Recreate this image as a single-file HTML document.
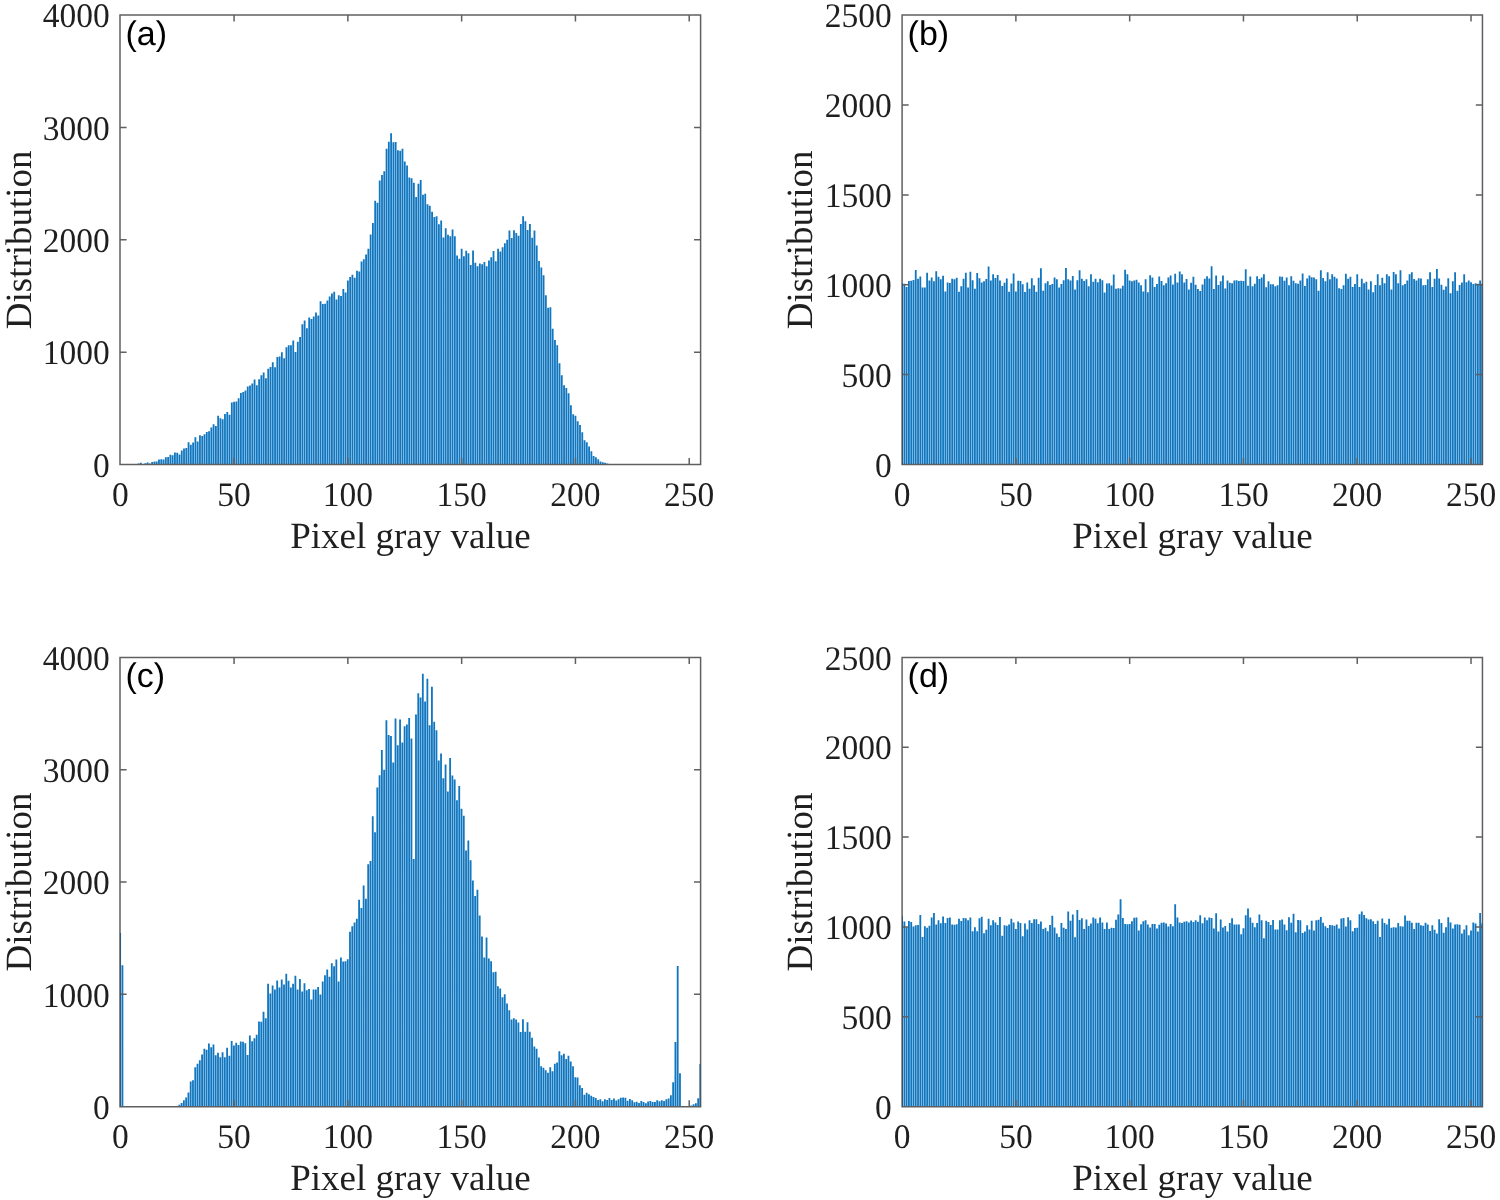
<!DOCTYPE html>
<html lang="en"><head><meta charset="utf-8"><title>Histograms</title>
<style>
html,body{margin:0;padding:0;background:#fff;}
svg{display:block;}
.t,.p{text-rendering:geometricPrecision;}
.t{font-family:"Liberation Serif","Times New Roman",serif;font-size:33.5px;fill:#1f1f1f;}
.l{font-size:37px;}
.p{font-family:"Liberation Sans",Arial,sans-serif;font-size:34px;fill:#000;}
.ax{stroke:#606060;stroke-width:1.5;fill:none;}
.b{fill:#1076BF;}
</style></head><body>
<svg width="1500" height="1200" viewBox="0 0 1500 1200">
<rect width="1500" height="1200" fill="#fff"/>

<g id="plot-a">
<clipPath id="clip-a"><rect x="120.3" y="15.2" width="580.3" height="449.25"/></clipPath>
<g class="b" clip-path="url(#clip-a)">
<path d="M135.32 464.45v-0.34h1.82v0.34zM137.60 464.45v-0.90h1.82v0.90zM139.87 464.45v-1.80h1.82v1.80zM142.15 464.45v-0.45h1.82v0.45zM144.42 464.45v-1.24h1.82v1.24zM146.70 464.45v-2.02h1.82v2.02zM148.97 464.45v-1.01h1.82v1.01zM151.25 464.45v-2.47h1.82v2.47zM153.53 464.45v-3.03h1.82v3.03zM155.80 464.45v-3.03h1.82v3.03zM158.08 464.45v-5.05h1.82v5.05zM160.35 464.45v-5.28h1.82v5.28zM162.63 464.45v-4.83h1.82v4.83zM164.90 464.45v-7.30h1.82v7.30zM167.18 464.45v-7.41h1.82v7.41zM169.45 464.45v-9.77h1.82v9.77zM171.73 464.45v-9.21h1.82v9.21zM174.01 464.45v-12.02h1.82v12.02zM176.28 464.45v-11.68h1.82v11.68zM178.56 464.45v-10.00h1.82v10.00zM180.83 464.45v-14.04h1.82v14.04zM183.11 464.45v-16.06h1.82v16.06zM185.38 464.45v-16.40h1.82v16.40zM187.66 464.45v-22.24h1.82v22.24zM189.94 464.45v-19.77h1.82v19.77zM192.21 464.45v-22.01h1.82v22.01zM194.49 464.45v-27.29h1.82v27.29zM196.76 464.45v-23.02h1.82v23.02zM199.04 464.45v-29.20h1.82v29.20zM201.31 464.45v-28.42h1.82v28.42zM203.59 464.45v-30.10h1.82v30.10zM205.87 464.45v-32.57h1.82v32.57zM208.14 464.45v-33.24h1.82v33.24zM210.42 464.45v-37.06h1.82v37.06zM212.69 464.45v-40.10h1.82v40.10zM214.97 464.45v-38.41h1.82v38.41zM217.24 464.45v-48.63h1.82v48.63zM219.52 464.45v-46.16h1.82v46.16zM221.80 464.45v-45.26h1.82v45.26zM224.07 464.45v-50.43h1.82v50.43zM226.35 464.45v-52.45h1.82v52.45zM228.62 464.45v-49.64h1.82v49.64zM230.90 464.45v-61.88h1.82v61.88zM233.17 464.45v-62.78h1.82v62.78zM235.45 464.45v-63.01h1.82v63.01zM237.73 464.45v-66.15h1.82v66.15zM240.00 464.45v-71.54h1.82v71.54zM242.28 464.45v-72.33h1.82v72.33zM244.55 464.45v-74.01h1.82v74.01zM246.83 464.45v-77.94h1.82v77.94zM249.10 464.45v-78.96h1.82v78.96zM251.38 464.45v-80.86h1.82v80.86zM253.66 464.45v-85.02h1.82v85.02zM255.93 464.45v-79.29h1.82v79.29zM258.21 464.45v-85.25h1.82v85.25zM260.48 464.45v-89.29h1.82v89.29zM262.76 464.45v-91.98h1.82v91.98zM265.03 464.45v-86.14h1.82v86.14zM267.31 464.45v-95.69h1.82v95.69zM269.59 464.45v-97.49h1.82v97.49zM271.86 464.45v-102.09h1.82v102.09zM274.14 464.45v-97.15h1.82v97.15zM276.41 464.45v-107.48h1.82v107.48zM278.69 464.45v-107.93h1.82v107.93zM280.96 464.45v-112.31h1.82v112.31zM283.24 464.45v-106.14h1.82v106.14zM285.51 464.45v-117.14h1.82v117.14zM287.79 464.45v-119.28h1.82v119.28zM290.07 464.45v-119.28h1.82v119.28zM292.34 464.45v-123.88h1.82v123.88zM294.62 464.45v-112.42h1.82v112.42zM296.89 464.45v-122.65h1.82v122.65zM299.17 464.45v-127.47h1.82v127.47zM301.44 464.45v-140.28h1.82v140.28zM303.72 464.45v-143.87h1.82v143.87zM306.00 464.45v-136.24h1.82v136.24zM308.27 464.45v-147.02h1.82v147.02zM310.55 464.45v-145.44h1.82v145.44zM312.82 464.45v-148.03h1.82v148.03zM315.10 464.45v-152.07h1.82v152.07zM317.37 464.45v-149.04h1.82v149.04zM319.65 464.45v-163.08h1.82v163.08zM321.93 464.45v-160.38h1.82v160.38zM324.20 464.45v-160.61h1.82v160.61zM326.48 464.45v-163.86h1.82v163.86zM328.75 464.45v-168.02h1.82v168.02zM331.03 464.45v-170.83h1.82v170.83zM333.30 464.45v-172.62h1.82v172.62zM335.58 464.45v-164.87h1.82v164.87zM337.86 464.45v-169.14h1.82v169.14zM340.13 464.45v-168.36h1.82v168.36zM342.41 464.45v-175.43h1.82v175.43zM344.68 464.45v-172.06h1.82v172.06zM346.96 464.45v-183.86h1.82v183.86zM349.23 464.45v-187.45h1.82v187.45zM351.51 464.45v-189.81h1.82v189.81zM353.79 464.45v-186.78h1.82v186.78zM356.06 464.45v-193.63h1.82v193.63zM358.34 464.45v-193.07h1.82v193.07zM360.61 464.45v-203.06h1.82v203.06zM362.89 464.45v-205.08h1.82v205.08zM365.16 464.45v-210.02h1.82v210.02zM367.44 464.45v-215.64h1.82v215.64zM369.72 464.45v-230.02h1.82v230.02zM371.99 464.45v-241.47h1.82v241.47zM374.27 464.45v-263.82h1.82v263.82zM376.54 464.45v-261.80h1.82v261.80zM378.82 464.45v-284.04h1.82v284.04zM381.09 464.45v-289.43h1.82v289.43zM383.37 464.45v-293.14h1.82v293.14zM385.65 464.45v-315.82h1.82v315.82zM387.92 464.45v-322.79h1.82v322.79zM390.20 464.45v-331.21h1.82v331.21zM392.47 464.45v-322.22h1.82v322.22zM394.75 464.45v-322.45h1.82v322.45zM397.02 464.45v-314.25h1.82v314.25zM399.30 464.45v-313.80h1.82v313.80zM401.57 464.45v-315.60h1.82v315.60zM403.85 464.45v-303.02h1.82v303.02zM406.13 464.45v-298.98h1.82v298.98zM408.40 464.45v-287.07h1.82v287.07zM410.68 464.45v-286.17h1.82v286.17zM412.95 464.45v-281.79h1.82v281.79zM415.23 464.45v-267.42h1.82v267.42zM417.50 464.45v-280.67h1.82v280.67zM419.78 464.45v-284.38h1.82v284.38zM422.06 464.45v-269.77h1.82v269.77zM424.33 464.45v-270.67h1.82v270.67zM426.61 464.45v-260.12h1.82v260.12zM428.88 464.45v-258.66h1.82v258.66zM431.16 464.45v-252.82h1.82v252.82zM433.43 464.45v-247.42h1.82v247.42zM435.71 464.45v-248.10h1.82v248.10zM437.99 464.45v-240.24h1.82v240.24zM440.26 464.45v-243.83h1.82v243.83zM442.54 464.45v-226.98h1.82v226.98zM444.81 464.45v-236.08h1.82v236.08zM447.09 464.45v-229.79h1.82v229.79zM449.36 464.45v-228.11h1.82v228.11zM451.64 464.45v-235.07h1.82v235.07zM453.92 464.45v-228.11h1.82v228.11zM456.19 464.45v-208.90h1.82v208.90zM458.47 464.45v-205.64h1.82v205.64zM460.74 464.45v-215.64h1.82v215.64zM463.02 464.45v-208.23h1.82v208.23zM465.29 464.45v-213.62h1.82v213.62zM467.57 464.45v-211.26h1.82v211.26zM469.85 464.45v-199.47h1.82v199.47zM472.12 464.45v-213.84h1.82v213.84zM474.40 464.45v-201.71h1.82v201.71zM476.67 464.45v-198.23h1.82v198.23zM478.95 464.45v-201.04h1.82v201.04zM481.22 464.45v-200.25h1.82v200.25zM483.50 464.45v-202.50h1.82v202.50zM485.78 464.45v-198.23h1.82v198.23zM488.05 464.45v-204.07h1.82v204.07zM490.33 464.45v-207.22h1.82v207.22zM492.60 464.45v-213.39h1.82v213.39zM494.88 464.45v-203.29h1.82v203.29zM497.15 464.45v-215.64h1.82v215.64zM499.43 464.45v-213.06h1.82v213.06zM501.71 464.45v-217.21h1.82v217.21zM503.98 464.45v-221.14h1.82v221.14zM506.26 464.45v-224.62h1.82v224.62zM508.53 464.45v-233.95h1.82v233.95zM510.81 464.45v-226.42h1.82v226.42zM513.08 464.45v-234.17h1.82v234.17zM515.36 464.45v-231.48h1.82v231.48zM517.63 464.45v-228.67h1.82v228.67zM519.91 464.45v-240.35h1.82v240.35zM522.19 464.45v-248.21h1.82v248.21zM524.46 464.45v-243.16h1.82v243.16zM526.74 464.45v-234.51h1.82v234.51zM529.01 464.45v-240.35h1.82v240.35zM531.29 464.45v-226.76h1.82v226.76zM533.56 464.45v-233.95h1.82v233.95zM535.84 464.45v-219.01h1.82v219.01zM538.12 464.45v-203.40h1.82v203.40zM540.39 464.45v-197.00h1.82v197.00zM542.67 464.45v-189.13h1.82v189.13zM544.94 464.45v-169.25h1.82v169.25zM547.22 464.45v-156.79h1.82v156.79zM549.49 464.45v-157.24h1.82v157.24zM551.77 464.45v-135.67h1.82v135.67zM554.05 464.45v-124.44h1.82v124.44zM556.32 464.45v-119.28h1.82v119.28zM558.60 464.45v-101.08h1.82v101.08zM560.87 464.45v-89.29h1.82v89.29zM563.15 464.45v-79.29h1.82v79.29zM565.42 464.45v-76.48h1.82v76.48zM567.70 464.45v-71.21h1.82v71.21zM569.98 464.45v-59.19h1.82v59.19zM572.25 464.45v-50.09h1.82v50.09zM574.53 464.45v-48.63h1.82v48.63zM576.80 464.45v-43.13h1.82v43.13zM579.08 464.45v-39.42h1.82v39.42zM581.35 464.45v-32.23h1.82v32.23zM583.63 464.45v-24.26h1.82v24.26zM585.91 464.45v-22.24h1.82v22.24zM588.18 464.45v-17.86h1.82v17.86zM590.46 464.45v-13.14h1.82v13.14zM592.73 464.45v-8.42h1.82v8.42zM595.01 464.45v-7.30h1.82v7.30zM597.28 464.45v-5.28h1.82v5.28zM599.56 464.45v-3.03h1.82v3.03zM601.84 464.45v-2.25h1.82v2.25zM604.11 464.45v-1.68h1.82v1.68zM606.39 464.45v-0.90h1.82v0.90z"/>
</g>
<path class="ax" d="M120.0 15.0H700.6V464.6H120.0Z"/>
<path class="ax" d="M234.08 464.6v-6.6M234.08 15.0v6.6M347.87 464.6v-6.6M347.87 15.0v6.6M461.65 464.6v-6.6M461.65 15.0v6.6M575.44 464.6v-6.6M575.44 15.0v6.6M689.22 464.6v-6.6M689.22 15.0v6.6M120.0 352.14h6.6M700.6 352.14h-6.6M120.0 239.82h6.6M700.6 239.82h-6.6M120.0 127.51h6.6M700.6 127.51h-6.6"/>
<text class="t" transform="translate(120.3 506) scale(1 1.03)" text-anchor="middle">0</text>
<text class="t" transform="translate(234.1 506) scale(1 1.03)" text-anchor="middle">50</text>
<text class="t" transform="translate(347.9 506) scale(1 1.03)" text-anchor="middle">100</text>
<text class="t" transform="translate(461.7 506) scale(1 1.03)" text-anchor="middle">150</text>
<text class="t" transform="translate(575.4 506) scale(1 1.03)" text-anchor="middle">200</text>
<text class="t" transform="translate(689.2 506) scale(1 1.03)" text-anchor="middle">250</text>
<text class="t" transform="translate(109.7 477) scale(1 1.03)" text-anchor="end">0</text>
<text class="t" transform="translate(109.7 364) scale(1 1.03)" text-anchor="end">1000</text>
<text class="t" transform="translate(109.7 252) scale(1 1.03)" text-anchor="end">2000</text>
<text class="t" transform="translate(109.7 140) scale(1 1.03)" text-anchor="end">3000</text>
<text class="t" transform="translate(109.7 27) scale(1 1.03)" text-anchor="end">4000</text>
<text class="t l" x="410.4" y="547.5" text-anchor="middle">Pixel gray value</text>
<text class="t l" transform="translate(30.5 239.8) rotate(-90)" text-anchor="middle">Distribution</text>
<text class="p" x="125.5" y="45.0">(a)</text>
</g>
<g id="plot-b">
<clipPath id="clip-b"><rect x="902.1" y="15.2" width="580.3" height="449.25"/></clipPath>
<g class="b" clip-path="url(#clip-b)">
<path d="M901.19 464.45v-180.96h1.82v180.96zM903.47 464.45v-180.60h1.82v180.60zM905.74 464.45v-177.36h1.82v177.36zM908.02 464.45v-183.47h1.82v183.47zM910.29 464.45v-183.65h1.82v183.65zM912.57 464.45v-184.55h1.82v184.55zM914.84 464.45v-194.44h1.82v194.44zM917.12 464.45v-185.63h1.82v185.63zM919.40 464.45v-187.97h1.82v187.97zM921.67 464.45v-177.00h1.82v177.00zM923.95 464.45v-177.00h1.82v177.00zM926.22 464.45v-191.74h1.82v191.74zM928.50 464.45v-184.01h1.82v184.01zM930.77 464.45v-187.07h1.82v187.07zM933.05 464.45v-183.11h1.82v183.11zM935.33 464.45v-193.18h1.82v193.18zM937.60 464.45v-187.61h1.82v187.61zM939.88 464.45v-185.09h1.82v185.09zM942.15 464.45v-188.69h1.82v188.69zM944.43 464.45v-173.05h1.82v173.05zM946.70 464.45v-181.86h1.82v181.86zM948.98 464.45v-181.50h1.82v181.50zM951.25 464.45v-185.63h1.82v185.63zM953.53 464.45v-185.27h1.82v185.27zM955.81 464.45v-186.71h1.82v186.71zM958.08 464.45v-172.69h1.82v172.69zM960.36 464.45v-178.26h1.82v178.26zM962.63 464.45v-185.63h1.82v185.63zM964.91 464.45v-191.74h1.82v191.74zM967.18 464.45v-177.00h1.82v177.00zM969.46 464.45v-192.82h1.82v192.82zM971.74 464.45v-184.19h1.82v184.19zM974.01 464.45v-175.75h1.82v175.75zM976.29 464.45v-191.38h1.82v191.38zM978.56 464.45v-186.17h1.82v186.17zM980.84 464.45v-181.86h1.82v181.86zM983.11 464.45v-183.11h1.82v183.11zM985.39 464.45v-185.45h1.82v185.45zM987.67 464.45v-198.03h1.82v198.03zM989.94 464.45v-184.01h1.82v184.01zM992.22 464.45v-190.30h1.82v190.30zM994.49 464.45v-186.35h1.82v186.35zM996.77 464.45v-189.40h1.82v189.40zM999.04 464.45v-184.01h1.82v184.01zM1001.32 464.45v-178.44h1.82v178.44zM1003.60 464.45v-181.68h1.82v181.68zM1005.87 464.45v-185.99h1.82v185.99zM1008.15 464.45v-172.69h1.82v172.69zM1010.42 464.45v-180.96h1.82v180.96zM1012.70 464.45v-191.02h1.82v191.02zM1014.97 464.45v-172.87h1.82v172.87zM1017.25 464.45v-183.65h1.82v183.65zM1019.53 464.45v-183.47h1.82v183.47zM1021.80 464.45v-180.24h1.82v180.24zM1024.08 464.45v-172.51h1.82v172.51zM1026.35 464.45v-181.86h1.82v181.86zM1028.63 464.45v-175.75h1.82v175.75zM1030.90 464.45v-186.17h1.82v186.17zM1033.18 464.45v-179.16h1.82v179.16zM1035.46 464.45v-172.69h1.82v172.69zM1037.73 464.45v-186.71h1.82v186.71zM1040.01 464.45v-196.23h1.82v196.23zM1042.28 464.45v-173.77h1.82v173.77zM1044.56 464.45v-181.32h1.82v181.32zM1046.83 464.45v-183.29h1.82v183.29zM1049.11 464.45v-179.34h1.82v179.34zM1051.39 464.45v-180.42h1.82v180.42zM1053.66 464.45v-187.07h1.82v187.07zM1055.94 464.45v-185.09h1.82v185.09zM1058.21 464.45v-177.00h1.82v177.00zM1060.49 464.45v-180.42h1.82v180.42zM1062.76 464.45v-184.19h1.82v184.19zM1065.04 464.45v-196.41h1.82v196.41zM1067.31 464.45v-185.09h1.82v185.09zM1069.59 464.45v-184.01h1.82v184.01zM1071.87 464.45v-188.33h1.82v188.33zM1074.14 464.45v-174.85h1.82v174.85zM1076.42 464.45v-184.19h1.82v184.19zM1078.69 464.45v-194.26h1.82v194.26zM1080.97 464.45v-185.81h1.82v185.81zM1083.24 464.45v-183.47h1.82v183.47zM1085.52 464.45v-185.27h1.82v185.27zM1087.80 464.45v-178.08h1.82v178.08zM1090.07 464.45v-190.30h1.82v190.30zM1092.35 464.45v-182.58h1.82v182.58zM1094.62 464.45v-185.81h1.82v185.81zM1096.90 464.45v-182.22h1.82v182.22zM1099.17 464.45v-185.63h1.82v185.63zM1101.45 464.45v-184.19h1.82v184.19zM1103.73 464.45v-171.97h1.82v171.97zM1106.00 464.45v-180.96h1.82v180.96zM1108.28 464.45v-181.32h1.82v181.32zM1110.55 464.45v-178.98h1.82v178.98zM1112.83 464.45v-189.94h1.82v189.94zM1115.10 464.45v-175.75h1.82v175.75zM1117.38 464.45v-176.29h1.82v176.29zM1119.66 464.45v-175.93h1.82v175.93zM1121.93 464.45v-178.62h1.82v178.62zM1124.21 464.45v-194.62h1.82v194.62zM1126.48 464.45v-190.30h1.82v190.30zM1128.76 464.45v-184.01h1.82v184.01zM1131.03 464.45v-183.11h1.82v183.11zM1133.31 464.45v-183.83h1.82v183.83zM1135.59 464.45v-184.73h1.82v184.73zM1137.86 464.45v-181.86h1.82v181.86zM1140.14 464.45v-179.16h1.82v179.16zM1142.41 464.45v-173.05h1.82v173.05zM1144.69 464.45v-185.09h1.82v185.09zM1146.96 464.45v-172.15h1.82v172.15zM1149.24 464.45v-189.22h1.82v189.22zM1151.52 464.45v-187.07h1.82v187.07zM1153.79 464.45v-177.36h1.82v177.36zM1156.07 464.45v-180.42h1.82v180.42zM1158.34 464.45v-187.97h1.82v187.97zM1160.62 464.45v-183.47h1.82v183.47zM1162.89 464.45v-179.16h1.82v179.16zM1165.17 464.45v-181.32h1.82v181.32zM1167.45 464.45v-186.89h1.82v186.89zM1169.72 464.45v-189.04h1.82v189.04zM1172.00 464.45v-179.88h1.82v179.88zM1174.27 464.45v-190.66h1.82v190.66zM1176.55 464.45v-181.86h1.82v181.86zM1178.82 464.45v-193.00h1.82v193.00zM1181.10 464.45v-190.30h1.82v190.30zM1183.37 464.45v-181.86h1.82v181.86zM1185.65 464.45v-185.45h1.82v185.45zM1187.93 464.45v-175.03h1.82v175.03zM1190.20 464.45v-181.68h1.82v181.68zM1192.48 464.45v-187.79h1.82v187.79zM1194.75 464.45v-179.70h1.82v179.70zM1197.03 464.45v-175.39h1.82v175.39zM1199.30 464.45v-173.41h1.82v173.41zM1201.58 464.45v-179.88h1.82v179.88zM1203.86 464.45v-185.81h1.82v185.81zM1206.13 464.45v-188.15h1.82v188.15zM1208.41 464.45v-185.99h1.82v185.99zM1210.68 464.45v-198.21h1.82v198.21zM1212.96 464.45v-175.39h1.82v175.39zM1215.23 464.45v-188.86h1.82v188.86zM1217.51 464.45v-179.34h1.82v179.34zM1219.79 464.45v-183.11h1.82v183.11zM1222.06 464.45v-189.04h1.82v189.04zM1224.34 464.45v-175.93h1.82v175.93zM1226.61 464.45v-183.83h1.82v183.83zM1228.89 464.45v-181.68h1.82v181.68zM1231.16 464.45v-181.32h1.82v181.32zM1233.44 464.45v-183.83h1.82v183.83zM1235.72 464.45v-184.19h1.82v184.19zM1237.99 464.45v-183.47h1.82v183.47zM1240.27 464.45v-183.65h1.82v183.65zM1242.54 464.45v-183.47h1.82v183.47zM1244.82 464.45v-195.15h1.82v195.15zM1247.09 464.45v-178.62h1.82v178.62zM1249.37 464.45v-187.97h1.82v187.97zM1251.65 464.45v-178.26h1.82v178.26zM1253.92 464.45v-180.60h1.82v180.60zM1256.20 464.45v-188.15h1.82v188.15zM1258.47 464.45v-185.45h1.82v185.45zM1260.75 464.45v-187.07h1.82v187.07zM1263.02 464.45v-190.30h1.82v190.30zM1265.30 464.45v-177.18h1.82v177.18zM1267.58 464.45v-183.11h1.82v183.11zM1269.85 464.45v-180.24h1.82v180.24zM1272.13 464.45v-180.24h1.82v180.24zM1274.40 464.45v-178.26h1.82v178.26zM1276.68 464.45v-179.16h1.82v179.16zM1278.95 464.45v-187.97h1.82v187.97zM1281.23 464.45v-187.79h1.82v187.79zM1283.51 464.45v-183.65h1.82v183.65zM1285.78 464.45v-187.07h1.82v187.07zM1288.06 464.45v-179.16h1.82v179.16zM1290.33 464.45v-188.15h1.82v188.15zM1292.61 464.45v-183.65h1.82v183.65zM1294.88 464.45v-181.32h1.82v181.32zM1297.16 464.45v-180.78h1.82v180.78zM1299.43 464.45v-183.83h1.82v183.83zM1301.71 464.45v-191.02h1.82v191.02zM1303.99 464.45v-178.44h1.82v178.44zM1306.26 464.45v-185.99h1.82v185.99zM1308.54 464.45v-189.04h1.82v189.04zM1310.81 464.45v-187.25h1.82v187.25zM1313.09 464.45v-187.07h1.82v187.07zM1315.36 464.45v-185.09h1.82v185.09zM1317.64 464.45v-173.59h1.82v173.59zM1319.92 464.45v-194.26h1.82v194.26zM1322.19 464.45v-186.35h1.82v186.35zM1324.47 464.45v-183.11h1.82v183.11zM1326.74 464.45v-192.28h1.82v192.28zM1329.02 464.45v-185.09h1.82v185.09zM1331.29 464.45v-190.30h1.82v190.30zM1333.57 464.45v-187.79h1.82v187.79zM1335.85 464.45v-185.99h1.82v185.99zM1338.12 464.45v-176.29h1.82v176.29zM1340.40 464.45v-175.39h1.82v175.39zM1342.67 464.45v-179.16h1.82v179.16zM1344.95 464.45v-190.66h1.82v190.66zM1347.22 464.45v-185.63h1.82v185.63zM1349.50 464.45v-187.61h1.82v187.61zM1351.78 464.45v-177.36h1.82v177.36zM1354.05 464.45v-180.42h1.82v180.42zM1356.33 464.45v-190.12h1.82v190.12zM1358.60 464.45v-177.36h1.82v177.36zM1360.88 464.45v-185.63h1.82v185.63zM1363.15 464.45v-181.32h1.82v181.32zM1365.43 464.45v-182.58h1.82v182.58zM1367.71 464.45v-174.85h1.82v174.85zM1369.98 464.45v-183.11h1.82v183.11zM1372.26 464.45v-172.15h1.82v172.15zM1374.53 464.45v-179.34h1.82v179.34zM1376.81 464.45v-190.30h1.82v190.30zM1379.08 464.45v-179.16h1.82v179.16zM1381.36 464.45v-186.71h1.82v186.71zM1383.64 464.45v-181.32h1.82v181.32zM1385.91 464.45v-190.30h1.82v190.30zM1388.19 464.45v-188.15h1.82v188.15zM1390.46 464.45v-175.03h1.82v175.03zM1392.74 464.45v-192.46h1.82v192.46zM1395.01 464.45v-190.30h1.82v190.30zM1397.29 464.45v-181.32h1.82v181.32zM1399.57 464.45v-194.08h1.82v194.08zM1401.84 464.45v-179.16h1.82v179.16zM1404.12 464.45v-180.42h1.82v180.42zM1406.39 464.45v-184.01h1.82v184.01zM1408.67 464.45v-190.12h1.82v190.12zM1410.94 464.45v-192.10h1.82v192.10zM1413.22 464.45v-185.45h1.82v185.45zM1415.49 464.45v-184.01h1.82v184.01zM1417.77 464.45v-186.17h1.82v186.17zM1420.05 464.45v-185.99h1.82v185.99zM1422.32 464.45v-179.16h1.82v179.16zM1424.60 464.45v-179.34h1.82v179.34zM1426.87 464.45v-185.27h1.82v185.27zM1429.15 464.45v-192.10h1.82v192.10zM1431.42 464.45v-177.54h1.82v177.54zM1433.70 464.45v-185.63h1.82v185.63zM1435.98 464.45v-195.51h1.82v195.51zM1438.25 464.45v-185.99h1.82v185.99zM1440.53 464.45v-179.70h1.82v179.70zM1442.80 464.45v-174.67h1.82v174.67zM1445.08 464.45v-177.90h1.82v177.90zM1447.35 464.45v-186.17h1.82v186.17zM1449.63 464.45v-171.25h1.82v171.25zM1451.91 464.45v-183.11h1.82v183.11zM1454.18 464.45v-192.28h1.82v192.28zM1456.46 464.45v-173.59h1.82v173.59zM1458.73 464.45v-179.34h1.82v179.34zM1461.01 464.45v-182.04h1.82v182.04zM1463.28 464.45v-190.12h1.82v190.12zM1465.56 464.45v-182.22h1.82v182.22zM1467.84 464.45v-184.01h1.82v184.01zM1470.11 464.45v-182.22h1.82v182.22zM1472.39 464.45v-180.42h1.82v180.42zM1474.66 464.45v-181.32h1.82v181.32zM1476.94 464.45v-180.78h1.82v180.78zM1479.21 464.45v-184.01h1.82v184.01zM1481.49 464.45v-180.60h1.82v180.60z"/>
</g>
<path class="ax" d="M902.1 15.0H1482.45V464.6H902.1Z"/>
<path class="ax" d="M1015.88 464.6v-6.6M1015.88 15.0v6.6M1129.67 464.6v-6.6M1129.67 15.0v6.6M1243.45 464.6v-6.6M1243.45 15.0v6.6M1357.24 464.6v-6.6M1357.24 15.0v6.6M1471.02 464.6v-6.6M1471.02 15.0v6.6M902.1 374.60h6.6M1482.45 374.60h-6.6M902.1 284.75h6.6M1482.45 284.75h-6.6M902.1 194.90h6.6M1482.45 194.90h-6.6M902.1 105.05h6.6M1482.45 105.05h-6.6"/>
<rect x="902.10" y="283.49" width="0.9" height="180.96" fill="#14507f" fill-opacity="0.7"/>
<rect x="1481.55" y="283.85" width="0.9" height="180.60" fill="#14507f" fill-opacity="0.7"/>
<text class="t" transform="translate(902.1 506) scale(1 1.03)" text-anchor="middle">0</text>
<text class="t" transform="translate(1015.9 506) scale(1 1.03)" text-anchor="middle">50</text>
<text class="t" transform="translate(1129.7 506) scale(1 1.03)" text-anchor="middle">100</text>
<text class="t" transform="translate(1243.5 506) scale(1 1.03)" text-anchor="middle">150</text>
<text class="t" transform="translate(1357.2 506) scale(1 1.03)" text-anchor="middle">200</text>
<text class="t" transform="translate(1471.0 506) scale(1 1.03)" text-anchor="middle">250</text>
<text class="t" transform="translate(891.8 477) scale(1 1.03)" text-anchor="end">0</text>
<text class="t" transform="translate(891.8 387) scale(1 1.03)" text-anchor="end">500</text>
<text class="t" transform="translate(891.8 297) scale(1 1.03)" text-anchor="end">1000</text>
<text class="t" transform="translate(891.8 207) scale(1 1.03)" text-anchor="end">1500</text>
<text class="t" transform="translate(891.8 117) scale(1 1.03)" text-anchor="end">2000</text>
<text class="t" transform="translate(891.8 27) scale(1 1.03)" text-anchor="end">2500</text>
<text class="t l" x="1192.5" y="547.5" text-anchor="middle">Pixel gray value</text>
<text class="t l" transform="translate(811.7 239.8) rotate(-90)" text-anchor="middle">Distribution</text>
<text class="p" x="907.6" y="45.0">(b)</text>
</g>
<g id="plot-c">
<clipPath id="clip-c"><rect x="120.3" y="657.4" width="580.3" height="449.25"/></clipPath>
<g class="b" clip-path="url(#clip-c)">
<path d="M119.24 1106.65v-173.64h1.82v173.64zM121.52 1106.65v-141.40h1.82v141.40zM173.86 1106.65v-0.45h1.82v0.45zM176.13 1106.65v-0.67h1.82v0.67zM178.41 1106.65v-1.80h1.82v1.80zM180.68 1106.65v-3.59h1.82v3.59zM182.96 1106.65v-6.40h1.82v6.40zM185.23 1106.65v-9.21h1.82v9.21zM187.51 1106.65v-14.04h1.82v14.04zM189.79 1106.65v-25.05h1.82v25.05zM192.06 1106.65v-26.28h1.82v26.28zM194.34 1106.65v-39.31h1.82v39.31zM196.61 1106.65v-42.79h1.82v42.79zM198.89 1106.65v-46.50h1.82v46.50zM201.16 1106.65v-52.23h1.82v52.23zM203.44 1106.65v-57.95h1.82v57.95zM205.72 1106.65v-56.83h1.82v56.83zM207.99 1106.65v-63.23h1.82v63.23zM210.27 1106.65v-59.41h1.82v59.41zM212.54 1106.65v-62.22h1.82v62.22zM214.82 1106.65v-51.44h1.82v51.44zM217.09 1106.65v-53.80h1.82v53.80zM219.37 1106.65v-49.42h1.82v49.42zM221.65 1106.65v-54.47h1.82v54.47zM223.92 1106.65v-49.42h1.82v49.42zM226.20 1106.65v-58.85h1.82v58.85zM228.47 1106.65v-50.99h1.82v50.99zM230.75 1106.65v-65.70h1.82v65.70zM233.02 1106.65v-61.21h1.82v61.21zM235.30 1106.65v-63.79h1.82v63.79zM237.58 1106.65v-61.66h1.82v61.66zM239.85 1106.65v-65.14h1.82v65.14zM242.13 1106.65v-64.92h1.82v64.92zM244.40 1106.65v-63.46h1.82v63.46zM246.68 1106.65v-51.55h1.82v51.55zM248.95 1106.65v-71.21h1.82v71.21zM251.23 1106.65v-65.37h1.82v65.37zM253.51 1106.65v-68.51h1.82v68.51zM255.78 1106.65v-71.88h1.82v71.88zM258.06 1106.65v-85.25h1.82v85.25zM260.33 1106.65v-84.80h1.82v84.80zM262.61 1106.65v-95.02h1.82v95.02zM264.88 1106.65v-88.28h1.82v88.28zM267.16 1106.65v-122.98h1.82v122.98zM269.44 1106.65v-113.21h1.82v113.21zM271.71 1106.65v-121.19h1.82v121.19zM273.99 1106.65v-117.03h1.82v117.03zM276.26 1106.65v-126.24h1.82v126.24zM278.54 1106.65v-119.05h1.82v119.05zM280.81 1106.65v-127.03h1.82v127.03zM283.09 1106.65v-122.20h1.82v122.20zM285.36 1106.65v-132.87h1.82v132.87zM287.64 1106.65v-126.01h1.82v126.01zM289.92 1106.65v-119.05h1.82v119.05zM292.19 1106.65v-122.98h1.82v122.98zM294.47 1106.65v-130.84h1.82v130.84zM296.74 1106.65v-117.14h1.82v117.14zM299.02 1106.65v-127.59h1.82v127.59zM301.29 1106.65v-115.23h1.82v115.23zM303.57 1106.65v-123.32h1.82v123.32zM305.85 1106.65v-116.36h1.82v116.36zM308.12 1106.65v-117.70h1.82v117.70zM310.40 1106.65v-107.03h1.82v107.03zM312.67 1106.65v-117.14h1.82v117.14zM314.95 1106.65v-117.03h1.82v117.03zM317.22 1106.65v-119.61h1.82v119.61zM319.50 1106.65v-112.20h1.82v112.20zM321.78 1106.65v-125.23h1.82v125.23zM324.05 1106.65v-131.29h1.82v131.29zM326.33 1106.65v-137.25h1.82v137.25zM328.60 1106.65v-129.95h1.82v129.95zM330.88 1106.65v-143.31h1.82v143.31zM333.15 1106.65v-140.28h1.82v140.28zM335.43 1106.65v-147.24h1.82v147.24zM337.71 1106.65v-125.23h1.82v125.23zM339.98 1106.65v-149.15h1.82v149.15zM342.26 1106.65v-145.22h1.82v145.22zM344.53 1106.65v-145.44h1.82v145.44zM346.81 1106.65v-147.47h1.82v147.47zM349.08 1106.65v-174.98h1.82v174.98zM351.36 1106.65v-180.37h1.82v180.37zM353.64 1106.65v-184.19h1.82v184.19zM355.91 1106.65v-187.79h1.82v187.79zM358.19 1106.65v-206.99h1.82v206.99zM360.46 1106.65v-198.68h1.82v198.68zM362.74 1106.65v-221.14h1.82v221.14zM365.01 1106.65v-207.78h1.82v207.78zM367.29 1106.65v-242.37h1.82v242.37zM369.57 1106.65v-245.63h1.82v245.63zM371.84 1106.65v-290.44h1.82v290.44zM374.12 1106.65v-274.38h1.82v274.38zM376.39 1106.65v-319.19h1.82v319.19zM378.67 1106.65v-331.43h1.82v331.43zM380.94 1106.65v-356.59h1.82v356.59zM383.22 1106.65v-336.83h1.82v336.83zM385.50 1106.65v-386.35h1.82v386.35zM387.77 1106.65v-371.64h1.82v371.64zM390.05 1106.65v-370.63h1.82v370.63zM392.32 1106.65v-344.24h1.82v344.24zM394.60 1106.65v-388.15h1.82v388.15zM396.87 1106.65v-361.42h1.82v361.42zM399.15 1106.65v-387.03h1.82v387.03zM401.42 1106.65v-364.23h1.82v364.23zM403.70 1106.65v-380.40h1.82v380.40zM405.98 1106.65v-382.20h1.82v382.20zM408.25 1106.65v-388.60h1.82v388.60zM410.53 1106.65v-368.16h1.82v368.16zM412.80 1106.65v-247.65h1.82v247.65zM415.08 1106.65v-392.20h1.82v392.20zM417.35 1106.65v-413.31h1.82v413.31zM419.63 1106.65v-409.27h1.82v409.27zM421.91 1106.65v-432.96h1.82v432.96zM424.18 1106.65v-405.22h1.82v405.22zM426.46 1106.65v-427.91h1.82v427.91zM428.73 1106.65v-381.30h1.82v381.30zM431.01 1106.65v-419.94h1.82v419.94zM433.28 1106.65v-385.01h1.82v385.01zM435.56 1106.65v-376.47h1.82v376.47zM437.84 1106.65v-346.26h1.82v346.26zM440.11 1106.65v-353.22h1.82v353.22zM442.39 1106.65v-328.40h1.82v328.40zM444.66 1106.65v-342.22h1.82v342.22zM446.94 1106.65v-315.04h1.82v315.04zM449.21 1106.65v-348.62h1.82v348.62zM451.49 1106.65v-331.21h1.82v331.21zM453.77 1106.65v-327.17h1.82v327.17zM456.04 1106.65v-306.39h1.82v306.39zM458.32 1106.65v-320.65h1.82v320.65zM460.59 1106.65v-297.97h1.82v297.97zM462.87 1106.65v-291.00h1.82v291.00zM465.14 1106.65v-256.07h1.82v256.07zM467.42 1106.65v-266.07h1.82v266.07zM469.70 1106.65v-246.41h1.82v246.41zM471.97 1106.65v-226.20h1.82v226.20zM474.25 1106.65v-210.59h1.82v210.59zM476.52 1106.65v-216.99h1.82v216.99zM478.80 1106.65v-191.04h1.82v191.04zM481.07 1106.65v-170.27h1.82v170.27zM483.35 1106.65v-149.26h1.82v149.26zM485.63 1106.65v-169.03h1.82v169.03zM487.90 1106.65v-148.03h1.82v148.03zM490.18 1106.65v-145.44h1.82v145.44zM492.45 1106.65v-134.44h1.82v134.44zM494.73 1106.65v-134.89h1.82v134.89zM497.00 1106.65v-120.29h1.82v120.29zM499.28 1106.65v-118.27h1.82v118.27zM501.56 1106.65v-109.28h1.82v109.28zM503.83 1106.65v-112.42h1.82v112.42zM506.11 1106.65v-103.22h1.82v103.22zM508.38 1106.65v-96.48h1.82v96.48zM510.66 1106.65v-87.15h1.82v87.15zM512.93 1106.65v-88.28h1.82v88.28zM515.21 1106.65v-87.15h1.82v87.15zM517.48 1106.65v-84.23h1.82v84.23zM519.76 1106.65v-74.69h1.82v74.69zM522.04 1106.65v-87.49h1.82v87.49zM524.31 1106.65v-75.02h1.82v75.02zM526.59 1106.65v-84.35h1.82v84.35zM528.86 1106.65v-75.02h1.82v75.02zM531.14 1106.65v-68.85h1.82v68.85zM533.41 1106.65v-60.09h1.82v60.09zM535.69 1106.65v-57.95h1.82v57.95zM537.97 1106.65v-49.19h1.82v49.19zM540.24 1106.65v-40.43h1.82v40.43zM542.52 1106.65v-38.86h1.82v38.86zM544.79 1106.65v-36.28h1.82v36.28zM547.07 1106.65v-33.81h1.82v33.81zM549.34 1106.65v-39.42h1.82v39.42zM551.62 1106.65v-35.49h1.82v35.49zM553.90 1106.65v-43.02h1.82v43.02zM556.17 1106.65v-44.25h1.82v44.25zM558.45 1106.65v-55.48h1.82v55.48zM560.72 1106.65v-51.44h1.82v51.44zM563.00 1106.65v-52.90h1.82v52.90zM565.27 1106.65v-47.62h1.82v47.62zM567.55 1106.65v-50.88h1.82v50.88zM569.83 1106.65v-45.15h1.82v45.15zM572.10 1106.65v-40.43h1.82v40.43zM574.38 1106.65v-29.43h1.82v29.43zM576.65 1106.65v-29.09h1.82v29.09zM578.93 1106.65v-21.45h1.82v21.45zM581.20 1106.65v-18.64h1.82v18.64zM583.48 1106.65v-11.79h1.82v11.79zM585.76 1106.65v-13.81h1.82v13.81zM588.03 1106.65v-12.35h1.82v12.35zM590.31 1106.65v-11.01h1.82v11.01zM592.58 1106.65v-9.66h1.82v9.66zM594.86 1106.65v-8.65h1.82v8.65zM597.13 1106.65v-6.63h1.82v6.63zM599.41 1106.65v-7.30h1.82v7.30zM601.69 1106.65v-5.50h1.82v5.50zM603.96 1106.65v-7.30h1.82v7.30zM606.24 1106.65v-6.63h1.82v6.63zM608.51 1106.65v-8.65h1.82v8.65zM610.79 1106.65v-6.63h1.82v6.63zM613.06 1106.65v-8.20h1.82v8.20zM615.34 1106.65v-6.06h1.82v6.06zM617.62 1106.65v-7.41h1.82v7.41zM619.89 1106.65v-8.87h1.82v8.87zM622.17 1106.65v-9.10h1.82v9.10zM624.44 1106.65v-8.87h1.82v8.87zM626.72 1106.65v-5.84h1.82v5.84zM628.99 1106.65v-7.64h1.82v7.64zM631.27 1106.65v-6.29h1.82v6.29zM633.54 1106.65v-4.49h1.82v4.49zM635.82 1106.65v-4.83h1.82v4.83zM638.10 1106.65v-3.59h1.82v3.59zM640.37 1106.65v-5.73h1.82v5.73zM642.65 1106.65v-4.72h1.82v4.72zM644.92 1106.65v-3.37h1.82v3.37zM647.20 1106.65v-5.17h1.82v5.17zM649.47 1106.65v-5.73h1.82v5.73zM651.75 1106.65v-4.60h1.82v4.60zM654.03 1106.65v-4.72h1.82v4.72zM656.30 1106.65v-6.40h1.82v6.40zM658.58 1106.65v-5.50h1.82v5.50zM660.85 1106.65v-6.29h1.82v6.29zM663.13 1106.65v-5.73h1.82v5.73zM665.40 1106.65v-7.41h1.82v7.41zM667.68 1106.65v-8.20h1.82v8.20zM669.96 1106.65v-11.34h1.82v11.34zM672.23 1106.65v-24.48h1.82v24.48zM674.51 1106.65v-64.58h1.82v64.58zM676.78 1106.65v-140.62h1.82v140.62zM679.06 1106.65v-33.47h1.82v33.47zM690.44 1106.65v-1.24h1.82v1.24zM692.71 1106.65v-2.36h1.82v2.36zM694.99 1106.65v-3.37h1.82v3.37zM697.26 1106.65v-8.42h1.82v8.42zM699.54 1106.65v-42.57h1.82v42.57z"/>
</g>
<path class="ax" d="M120.0 657.45H700.6V1106.75H120.0Z"/>
<path class="ax" d="M234.08 1106.75v-6.6M234.08 657.45v6.6M347.87 1106.75v-6.6M347.87 657.45v6.6M461.65 1106.75v-6.6M461.65 657.45v6.6M575.44 1106.75v-6.6M575.44 657.45v6.6M689.22 1106.75v-6.6M689.22 657.45v6.6M120.0 994.34h6.6M700.6 994.34h-6.6M120.0 882.03h6.6M700.6 882.03h-6.6M120.0 769.71h6.6M700.6 769.71h-6.6"/>
<rect x="120.00" y="933.01" width="0.9" height="173.64" fill="#14507f" fill-opacity="0.7"/>
<rect x="699.70" y="1064.08" width="0.9" height="42.57" fill="#14507f" fill-opacity="0.7"/>
<text class="t" transform="translate(120.3 1148) scale(1 1.03)" text-anchor="middle">0</text>
<text class="t" transform="translate(234.1 1148) scale(1 1.03)" text-anchor="middle">50</text>
<text class="t" transform="translate(347.9 1148) scale(1 1.03)" text-anchor="middle">100</text>
<text class="t" transform="translate(461.7 1148) scale(1 1.03)" text-anchor="middle">150</text>
<text class="t" transform="translate(575.4 1148) scale(1 1.03)" text-anchor="middle">200</text>
<text class="t" transform="translate(689.2 1148) scale(1 1.03)" text-anchor="middle">250</text>
<text class="t" transform="translate(109.7 1119) scale(1 1.03)" text-anchor="end">0</text>
<text class="t" transform="translate(109.7 1007) scale(1 1.03)" text-anchor="end">1000</text>
<text class="t" transform="translate(109.7 894) scale(1 1.03)" text-anchor="end">2000</text>
<text class="t" transform="translate(109.7 782) scale(1 1.03)" text-anchor="end">3000</text>
<text class="t" transform="translate(109.7 670) scale(1 1.03)" text-anchor="end">4000</text>
<text class="t l" x="410.4" y="1189.7" text-anchor="middle">Pixel gray value</text>
<text class="t l" transform="translate(30.5 882.0) rotate(-90)" text-anchor="middle">Distribution</text>
<text class="p" x="125.5" y="687.2">(c)</text>
</g>
<g id="plot-d">
<clipPath id="clip-d"><rect x="902.1" y="657.4" width="580.3" height="449.25"/></clipPath>
<g class="b" clip-path="url(#clip-d)">
<path d="M901.19 1106.65v-190.48h1.82v190.48zM903.47 1106.65v-185.27h1.82v185.27zM905.74 1106.65v-179.52h1.82v179.52zM908.02 1106.65v-185.63h1.82v185.63zM910.29 1106.65v-184.73h1.82v184.73zM912.57 1106.65v-180.24h1.82v180.24zM914.84 1106.65v-181.50h1.82v181.50zM917.12 1106.65v-181.68h1.82v181.68zM919.40 1106.65v-191.56h1.82v191.56zM921.67 1106.65v-169.64h1.82v169.64zM923.95 1106.65v-180.42h1.82v180.42zM926.22 1106.65v-178.80h1.82v178.80zM928.50 1106.65v-180.96h1.82v180.96zM930.77 1106.65v-189.04h1.82v189.04zM933.05 1106.65v-193.72h1.82v193.72zM935.33 1106.65v-182.04h1.82v182.04zM937.60 1106.65v-186.35h1.82v186.35zM939.88 1106.65v-183.47h1.82v183.47zM942.15 1106.65v-190.12h1.82v190.12zM944.43 1106.65v-183.65h1.82v183.65zM946.70 1106.65v-188.69h1.82v188.69zM948.98 1106.65v-189.04h1.82v189.04zM951.25 1106.65v-182.22h1.82v182.22zM953.53 1106.65v-181.86h1.82v181.86zM955.81 1106.65v-182.40h1.82v182.40zM958.08 1106.65v-187.97h1.82v187.97zM960.36 1106.65v-185.63h1.82v185.63zM962.63 1106.65v-188.69h1.82v188.69zM964.91 1106.65v-188.51h1.82v188.51zM967.18 1106.65v-186.35h1.82v186.35zM969.46 1106.65v-189.22h1.82v189.22zM971.74 1106.65v-175.39h1.82v175.39zM974.01 1106.65v-179.34h1.82v179.34zM976.29 1106.65v-175.39h1.82v175.39zM978.56 1106.65v-188.51h1.82v188.51zM980.84 1106.65v-189.94h1.82v189.94zM983.11 1106.65v-173.41h1.82v173.41zM985.39 1106.65v-177.00h1.82v177.00zM987.67 1106.65v-187.79h1.82v187.79zM989.94 1106.65v-181.32h1.82v181.32zM992.22 1106.65v-186.35h1.82v186.35zM994.49 1106.65v-184.19h1.82v184.19zM996.77 1106.65v-181.68h1.82v181.68zM999.04 1106.65v-189.58h1.82v189.58zM1001.32 1106.65v-170.89h1.82v170.89zM1003.60 1106.65v-181.50h1.82v181.50zM1005.87 1106.65v-180.96h1.82v180.96zM1008.15 1106.65v-182.04h1.82v182.04zM1010.42 1106.65v-187.79h1.82v187.79zM1012.70 1106.65v-184.19h1.82v184.19zM1014.97 1106.65v-177.54h1.82v177.54zM1017.25 1106.65v-185.27h1.82v185.27zM1019.53 1106.65v-183.65h1.82v183.65zM1021.80 1106.65v-170.36h1.82v170.36zM1024.08 1106.65v-183.11h1.82v183.11zM1026.35 1106.65v-177.18h1.82v177.18zM1028.63 1106.65v-186.35h1.82v186.35zM1030.90 1106.65v-183.65h1.82v183.65zM1033.18 1106.65v-187.43h1.82v187.43zM1035.46 1106.65v-187.43h1.82v187.43zM1037.73 1106.65v-182.75h1.82v182.75zM1040.01 1106.65v-185.27h1.82v185.27zM1042.28 1106.65v-177.54h1.82v177.54zM1044.56 1106.65v-178.80h1.82v178.80zM1046.83 1106.65v-175.39h1.82v175.39zM1049.11 1106.65v-181.68h1.82v181.68zM1051.39 1106.65v-190.84h1.82v190.84zM1053.66 1106.65v-179.16h1.82v179.16zM1055.94 1106.65v-173.23h1.82v173.23zM1058.21 1106.65v-169.64h1.82v169.64zM1060.49 1106.65v-183.65h1.82v183.65zM1062.76 1106.65v-178.98h1.82v178.98zM1065.04 1106.65v-177.54h1.82v177.54zM1067.31 1106.65v-195.15h1.82v195.15zM1069.59 1106.65v-185.81h1.82v185.81zM1071.87 1106.65v-192.10h1.82v192.10zM1074.14 1106.65v-169.46h1.82v169.46zM1076.42 1106.65v-196.59h1.82v196.59zM1078.69 1106.65v-186.53h1.82v186.53zM1080.97 1106.65v-188.51h1.82v188.51zM1083.24 1106.65v-177.54h1.82v177.54zM1085.52 1106.65v-187.07h1.82v187.07zM1087.80 1106.65v-180.60h1.82v180.60zM1090.07 1106.65v-183.11h1.82v183.11zM1092.35 1106.65v-189.04h1.82v189.04zM1094.62 1106.65v-187.97h1.82v187.97zM1096.90 1106.65v-183.47h1.82v183.47zM1099.17 1106.65v-189.22h1.82v189.22zM1101.45 1106.65v-184.19h1.82v184.19zM1103.73 1106.65v-177.54h1.82v177.54zM1106.00 1106.65v-184.19h1.82v184.19zM1108.28 1106.65v-177.54h1.82v177.54zM1110.55 1106.65v-178.98h1.82v178.98zM1112.83 1106.65v-178.62h1.82v178.62zM1115.10 1106.65v-186.89h1.82v186.89zM1117.38 1106.65v-192.10h1.82v192.10zM1119.66 1106.65v-207.37h1.82v207.37zM1121.93 1106.65v-188.69h1.82v188.69zM1124.21 1106.65v-182.58h1.82v182.58zM1126.48 1106.65v-182.40h1.82v182.40zM1128.76 1106.65v-182.75h1.82v182.75zM1131.03 1106.65v-185.45h1.82v185.45zM1133.31 1106.65v-188.86h1.82v188.86zM1135.59 1106.65v-189.04h1.82v189.04zM1137.86 1106.65v-176.11h1.82v176.11zM1140.14 1106.65v-182.40h1.82v182.40zM1142.41 1106.65v-185.45h1.82v185.45zM1144.69 1106.65v-186.35h1.82v186.35zM1146.96 1106.65v-182.22h1.82v182.22zM1149.24 1106.65v-179.16h1.82v179.16zM1151.52 1106.65v-182.75h1.82v182.75zM1153.79 1106.65v-182.75h1.82v182.75zM1156.07 1106.65v-178.26h1.82v178.26zM1158.34 1106.65v-181.86h1.82v181.86zM1160.62 1106.65v-184.01h1.82v184.01zM1162.89 1106.65v-184.19h1.82v184.19zM1165.17 1106.65v-183.11h1.82v183.11zM1167.45 1106.65v-180.06h1.82v180.06zM1169.72 1106.65v-182.58h1.82v182.58zM1172.00 1106.65v-180.42h1.82v180.42zM1174.27 1106.65v-202.34h1.82v202.34zM1176.55 1106.65v-189.04h1.82v189.04zM1178.82 1106.65v-184.19h1.82v184.19zM1181.10 1106.65v-183.65h1.82v183.65zM1183.37 1106.65v-184.91h1.82v184.91zM1185.65 1106.65v-185.45h1.82v185.45zM1187.93 1106.65v-184.19h1.82v184.19zM1190.20 1106.65v-186.17h1.82v186.17zM1192.48 1106.65v-184.73h1.82v184.73zM1194.75 1106.65v-186.35h1.82v186.35zM1197.03 1106.65v-184.91h1.82v184.91zM1199.30 1106.65v-191.38h1.82v191.38zM1201.58 1106.65v-183.47h1.82v183.47zM1203.86 1106.65v-189.04h1.82v189.04zM1206.13 1106.65v-186.35h1.82v186.35zM1208.41 1106.65v-189.22h1.82v189.22zM1210.68 1106.65v-188.69h1.82v188.69zM1212.96 1106.65v-178.26h1.82v178.26zM1215.23 1106.65v-193.36h1.82v193.36zM1217.51 1106.65v-175.03h1.82v175.03zM1219.79 1106.65v-187.25h1.82v187.25zM1222.06 1106.65v-179.16h1.82v179.16zM1224.34 1106.65v-180.60h1.82v180.60zM1226.61 1106.65v-175.03h1.82v175.03zM1228.89 1106.65v-183.65h1.82v183.65zM1231.16 1106.65v-188.51h1.82v188.51zM1233.44 1106.65v-182.04h1.82v182.04zM1235.72 1106.65v-182.22h1.82v182.22zM1237.99 1106.65v-182.04h1.82v182.04zM1240.27 1106.65v-172.51h1.82v172.51zM1242.54 1106.65v-178.44h1.82v178.44zM1244.82 1106.65v-191.38h1.82v191.38zM1247.09 1106.65v-198.21h1.82v198.21zM1249.37 1106.65v-189.04h1.82v189.04zM1251.65 1106.65v-184.01h1.82v184.01zM1253.92 1106.65v-179.34h1.82v179.34zM1256.20 1106.65v-183.65h1.82v183.65zM1258.47 1106.65v-192.10h1.82v192.10zM1260.75 1106.65v-186.35h1.82v186.35zM1263.02 1106.65v-168.38h1.82v168.38zM1265.30 1106.65v-185.81h1.82v185.81zM1267.58 1106.65v-184.73h1.82v184.73zM1269.85 1106.65v-181.68h1.82v181.68zM1272.13 1106.65v-186.53h1.82v186.53zM1274.40 1106.65v-177.18h1.82v177.18zM1276.68 1106.65v-177.18h1.82v177.18zM1278.95 1106.65v-186.35h1.82v186.35zM1281.23 1106.65v-187.25h1.82v187.25zM1283.51 1106.65v-182.22h1.82v182.22zM1285.78 1106.65v-176.47h1.82v176.47zM1288.06 1106.65v-189.40h1.82v189.40zM1290.33 1106.65v-183.83h1.82v183.83zM1292.61 1106.65v-193.00h1.82v193.00zM1294.88 1106.65v-174.49h1.82v174.49zM1297.16 1106.65v-186.53h1.82v186.53zM1299.43 1106.65v-186.35h1.82v186.35zM1301.71 1106.65v-173.59h1.82v173.59zM1303.99 1106.65v-175.21h1.82v175.21zM1306.26 1106.65v-181.32h1.82v181.32zM1308.54 1106.65v-177.18h1.82v177.18zM1310.81 1106.65v-185.99h1.82v185.99zM1313.09 1106.65v-176.11h1.82v176.11zM1315.36 1106.65v-186.35h1.82v186.35zM1317.64 1106.65v-186.89h1.82v186.89zM1319.92 1106.65v-189.58h1.82v189.58zM1322.19 1106.65v-183.83h1.82v183.83zM1324.47 1106.65v-180.42h1.82v180.42zM1326.74 1106.65v-178.62h1.82v178.62zM1329.02 1106.65v-181.68h1.82v181.68zM1331.29 1106.65v-181.50h1.82v181.50zM1333.57 1106.65v-180.96h1.82v180.96zM1335.85 1106.65v-182.04h1.82v182.04zM1338.12 1106.65v-178.26h1.82v178.26zM1340.40 1106.65v-188.15h1.82v188.15zM1342.67 1106.65v-188.69h1.82v188.69zM1344.95 1106.65v-180.06h1.82v180.06zM1347.22 1106.65v-189.40h1.82v189.40zM1349.50 1106.65v-186.35h1.82v186.35zM1351.78 1106.65v-175.39h1.82v175.39zM1354.05 1106.65v-178.62h1.82v178.62zM1356.33 1106.65v-178.80h1.82v178.80zM1358.60 1106.65v-192.46h1.82v192.46zM1360.88 1106.65v-195.15h1.82v195.15zM1363.15 1106.65v-191.56h1.82v191.56zM1365.43 1106.65v-188.33h1.82v188.33zM1367.71 1106.65v-187.07h1.82v187.07zM1369.98 1106.65v-187.43h1.82v187.43zM1372.26 1106.65v-185.45h1.82v185.45zM1374.53 1106.65v-182.75h1.82v182.75zM1376.81 1106.65v-185.81h1.82v185.81zM1379.08 1106.65v-169.64h1.82v169.64zM1381.36 1106.65v-188.15h1.82v188.15zM1383.64 1106.65v-183.65h1.82v183.65zM1385.91 1106.65v-182.04h1.82v182.04zM1388.19 1106.65v-187.79h1.82v187.79zM1390.46 1106.65v-178.98h1.82v178.98zM1392.74 1106.65v-179.34h1.82v179.34zM1395.01 1106.65v-179.16h1.82v179.16zM1397.29 1106.65v-183.65h1.82v183.65zM1399.57 1106.65v-180.42h1.82v180.42zM1401.84 1106.65v-180.24h1.82v180.24zM1404.12 1106.65v-191.20h1.82v191.20zM1406.39 1106.65v-185.81h1.82v185.81zM1408.67 1106.65v-185.81h1.82v185.81zM1410.94 1106.65v-184.01h1.82v184.01zM1413.22 1106.65v-177.54h1.82v177.54zM1415.49 1106.65v-183.83h1.82v183.83zM1417.77 1106.65v-184.01h1.82v184.01zM1420.05 1106.65v-181.32h1.82v181.32zM1422.32 1106.65v-180.96h1.82v180.96zM1424.60 1106.65v-184.01h1.82v184.01zM1426.87 1106.65v-182.04h1.82v182.04zM1429.15 1106.65v-175.57h1.82v175.57zM1431.42 1106.65v-181.32h1.82v181.32zM1433.70 1106.65v-177.00h1.82v177.00zM1435.98 1106.65v-173.23h1.82v173.23zM1438.25 1106.65v-187.43h1.82v187.43zM1440.53 1106.65v-183.65h1.82v183.65zM1442.80 1106.65v-173.95h1.82v173.95zM1445.08 1106.65v-179.34h1.82v179.34zM1447.35 1106.65v-189.40h1.82v189.40zM1449.63 1106.65v-184.19h1.82v184.19zM1451.91 1106.65v-178.26h1.82v178.26zM1454.18 1106.65v-182.22h1.82v182.22zM1456.46 1106.65v-182.40h1.82v182.40zM1458.73 1106.65v-181.86h1.82v181.86zM1461.01 1106.65v-173.23h1.82v173.23zM1463.28 1106.65v-177.18h1.82v177.18zM1465.56 1106.65v-181.50h1.82v181.50zM1467.84 1106.65v-171.43h1.82v171.43zM1470.11 1106.65v-176.11h1.82v176.11zM1472.39 1106.65v-184.19h1.82v184.19zM1474.66 1106.65v-183.11h1.82v183.11zM1476.94 1106.65v-175.21h1.82v175.21zM1479.21 1106.65v-193.72h1.82v193.72zM1481.49 1106.65v-183.29h1.82v183.29z"/>
</g>
<path class="ax" d="M902.1 657.45H1482.45V1106.75H902.1Z"/>
<path class="ax" d="M1015.88 1106.75v-6.6M1015.88 657.45v6.6M1129.67 1106.75v-6.6M1129.67 657.45v6.6M1243.45 1106.75v-6.6M1243.45 657.45v6.6M1357.24 1106.75v-6.6M1357.24 657.45v6.6M1471.02 1106.75v-6.6M1471.02 657.45v6.6M902.1 1016.80h6.6M1482.45 1016.80h-6.6M902.1 926.95h6.6M1482.45 926.95h-6.6M902.1 837.10h6.6M1482.45 837.10h-6.6M902.1 747.25h6.6M1482.45 747.25h-6.6"/>
<rect x="902.10" y="916.17" width="0.9" height="190.48" fill="#14507f" fill-opacity="0.7"/>
<rect x="1481.55" y="923.36" width="0.9" height="183.29" fill="#14507f" fill-opacity="0.7"/>
<text class="t" transform="translate(902.1 1148) scale(1 1.03)" text-anchor="middle">0</text>
<text class="t" transform="translate(1015.9 1148) scale(1 1.03)" text-anchor="middle">50</text>
<text class="t" transform="translate(1129.7 1148) scale(1 1.03)" text-anchor="middle">100</text>
<text class="t" transform="translate(1243.5 1148) scale(1 1.03)" text-anchor="middle">150</text>
<text class="t" transform="translate(1357.2 1148) scale(1 1.03)" text-anchor="middle">200</text>
<text class="t" transform="translate(1471.0 1148) scale(1 1.03)" text-anchor="middle">250</text>
<text class="t" transform="translate(891.8 1119) scale(1 1.03)" text-anchor="end">0</text>
<text class="t" transform="translate(891.8 1029) scale(1 1.03)" text-anchor="end">500</text>
<text class="t" transform="translate(891.8 939) scale(1 1.03)" text-anchor="end">1000</text>
<text class="t" transform="translate(891.8 849) scale(1 1.03)" text-anchor="end">1500</text>
<text class="t" transform="translate(891.8 759) scale(1 1.03)" text-anchor="end">2000</text>
<text class="t" transform="translate(891.8 670) scale(1 1.03)" text-anchor="end">2500</text>
<text class="t l" x="1192.5" y="1189.7" text-anchor="middle">Pixel gray value</text>
<text class="t l" transform="translate(811.7 882.0) rotate(-90)" text-anchor="middle">Distribution</text>
<text class="p" x="907.6" y="687.2">(d)</text>
</g>
</svg></body></html>
